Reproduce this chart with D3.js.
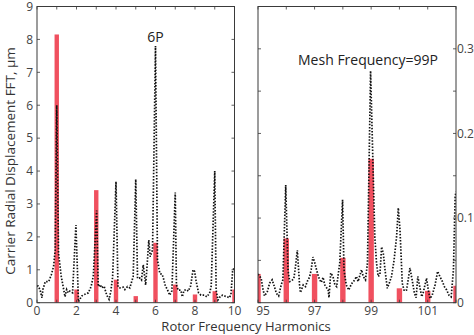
<!DOCTYPE html>
<html><head><meta charset="utf-8">
<script src="https://cdn.jsdelivr.net/npm/d3@7"></script>
<style>
html,body{margin:0;padding:0;background:#fff;}
svg{display:block;font-family:"Open Sans","Noto Sans",sans-serif;}
</style></head>
<body><svg id="c" width="474" height="335"></svg>
<script>
// ---- data ----
const leftHarmonics = [1,2,3,4,5,6,7,8,9,10];
const leftBarValues = [8.15,0.4,3.42,0.7,0.2,1.82,0.55,0.25,0.35,0.4];
const leftLineX = [0,0.05,0.15,0.25,0.3,0.42,0.59,0.72,0.84,0.92,1.0,1.09,1.23,1.34,1.42,1.5,1.58,1.66,1.8,1.97,2.1,2.26,2.4,2.6,2.74,2.85,3.02,3.1,3.2,3.27,3.4,3.53,3.65,3.74,3.83,4.0,4.1,4.2,4.37,4.45,4.58,4.7,4.87,5.0,5.09,5.2,5.29,5.38,5.45,5.5,5.56,5.66,5.73,5.85,6.0,6.1,6.22,6.34,6.42,6.5,6.6,6.72,6.83,7.0,7.06,7.15,7.28,7.36,7.44,7.56,7.66,7.78,7.9,7.98,8.06,8.18,8.3,8.48,8.6,8.74,8.82,9.0,9.07,9.16,9.29,9.4,9.52,9.63,9.74,9.82,9.91,10.0];
const leftLineY = [0.5,0.51,0.4,0.15,0.4,0.64,0.64,0.84,1.1,1.6,6.0,1.5,0.79,0.44,0.18,0.4,0.3,0.35,0.3,2.36,0.03,0.2,0.25,0.3,0.49,0.8,2.8,0.49,0.55,0.45,0.5,0.23,0.1,0.35,0.79,3.68,0.48,0.45,0.47,0.4,0.49,0.45,0.79,3.75,0.74,0.75,0.69,1.15,0.8,0.54,1.0,1.9,1.4,1.6,7.8,1.3,0.89,0.86,0.7,0.51,0.4,0.23,0.36,3.35,0.54,0.38,0.38,0.18,0.37,0.4,0.35,0.51,1.0,0.95,0.65,0.3,0.23,0.23,0.18,0.29,0.5,4.0,0.39,0.08,0.2,0.23,0.2,0.18,0.15,0.25,1.0,1.05];

const rightHarmonics = [95,96,97,98,99,100,101,102];
const rightBarValues = [0.034,0.076,0.034,0.053,0.17,0.017,0.014,0.02];
const rightLineX = [95.0,95.11,95.17,95.23,95.33,95.41,95.5,95.57,95.65,95.73,95.82,95.88,95.98,96.06,96.12,96.2,96.27,96.33,96.39,96.43,96.47,96.5,96.6,96.68,96.74,96.82,96.88,96.94,97.0,97.06,97.12,97.18,97.24,97.3,97.36,97.48,97.51,97.57,97.65,97.72,97.78,97.89,97.99,98.04,98.12,98.21,98.3,98.42,98.48,98.54,98.6,98.66,98.72,98.8,98.87,98.98,99.13,99.19,99.25,99.31,99.37,99.43,99.49,99.57,99.65,99.72,99.81,99.9,99.96,100.02,100.06,100.1,100.17,100.25,100.31,100.37,100.45,100.53,100.59,100.65,100.73,100.79,100.85,100.91,100.96,101.02,101.08,101.16,101.26,101.35,101.43,101.52,101.59,101.67,101.75,101.83,101.91,101.97,102.0];
const rightLineY = [0.034,0.029,0.017,0.008,0.013,0.023,0.027,0.02,0.011,0.008,0.021,0.027,0.139,0.039,0.025,0.026,0.029,0.044,0.062,0.042,0.021,0.012,0.021,0.019,0.025,0.03,0.039,0.054,0.048,0.04,0.033,0.027,0.024,0.03,0.021,0.015,0.006,0.035,0.031,0.021,0.019,0.047,0.1215,0.039,0.021,0.015,0.022,0.027,0.031,0.025,0.032,0.039,0.031,0.027,0.047,0.274,0.078,0.047,0.031,0.033,0.066,0.058,0.039,0.017,0.024,0.031,0.05,0.078,0.112,0.086,0.055,0.023,0.014,0.015,0.027,0.041,0.027,0.011,0.006,0.031,0.017,0.007,0.013,0.022,0.029,0.015,0.005,0.009,0.021,0.037,0.031,0.025,0.019,0.015,0.009,0.007,0.039,0.125,0.131];

const leftYTicks = [0,1,2,3,4,5,6,7,8,9];
const leftXTickLabels = [0,2,4,6,8,10];
const rightYTickLabels = [0,0.1,0.2,0.3];
const rightXTickLabels = [95,97,99,101];

const yTitle = "Carrier Radial Displacement FFT, \u03bcm";
const xTitle = "Rotor Frequency Harmonics";
const note6P = "6P";
const noteMesh = "Mesh Frequency=99P";

// ---- drawing ----
const svg = d3.select("#c");
const yTop = 6.5, yBottom = 302.7;
const barColor = "#f0505f";
const frameColor = "#3a3a3a";
const textColor = "#444";

const panels = [
  {id:"L", x: d3.scaleLinear().domain([0,10]).range([37,234.5]),
   y: d3.scaleLinear().domain([0,9]).range([yBottom,yTop]),
   bx: leftHarmonics, bv: leftBarValues, lx: leftLineX, ly: leftLineY, barW: 4.4,
   xMinor: d3.range(0,11,1), yMinor: d3.range(0,9.01,1)},
  {id:"R", x: d3.scaleLinear().domain([95,102]).range([258,456]),
   y: d3.scaleLinear().domain([0,0.35]).range([yBottom,yTop]),
   bx: rightHarmonics, bv: rightBarValues, lx: rightLineX, ly: rightLineY, barW: 5.4,
   xMinor: d3.range(95,102.01,1), yMinor: d3.range(0,0.351,0.05)}
];

panels.forEach(p => {
  const [x0,x1] = p.x.range();
  const g = svg.append("g");
  g.append("clipPath").attr("id","clip"+p.id).append("rect")
    .attr("x",x0).attr("y",yTop).attr("width",x1-x0).attr("height",yBottom-yTop);
  const inner = g.append("g").attr("clip-path","url(#clip"+p.id+")");
  inner.selectAll("rect.bar").data(p.bx).join("rect").attr("class","bar")
    .attr("x", (d)=>p.x(d)-p.barW/2).attr("width",p.barW)
    .attr("y",(d,i)=>p.y(p.bv[i])).attr("height",(d,i)=>p.y(0)-p.y(p.bv[i]))
    .attr("fill",barColor);
  const line = d3.line().x((d)=>p.x(d[0])).y((d)=>p.y(d[1]));
  inner.append("path").datum(p.lx.map((v,i)=>[v,p.ly[i]]))
    .attr("d",line).attr("fill","none").attr("stroke","#111")
    .attr("stroke-width",1.7).attr("stroke-dasharray","1.5,1.6");
  const tk = 3;
  p.xMinor.forEach(v=>{
    g.append("line").attr("x1",p.x(v)).attr("x2",p.x(v)).attr("y1",yBottom).attr("y2",yBottom-tk).attr("stroke",frameColor).attr("stroke-width",0.8);
    g.append("line").attr("x1",p.x(v)).attr("x2",p.x(v)).attr("y1",yTop).attr("y2",yTop+tk).attr("stroke",frameColor).attr("stroke-width",0.8);
  });
  p.yMinor.forEach(v=>{
    g.append("line").attr("x1",x0).attr("x2",x0+tk).attr("y1",p.y(v)).attr("y2",p.y(v)).attr("stroke",frameColor).attr("stroke-width",0.8);
    g.append("line").attr("x1",x1).attr("x2",x1-tk).attr("y1",p.y(v)).attr("y2",p.y(v)).attr("stroke",frameColor).attr("stroke-width",0.8);
  });
  g.append("rect").attr("x",x0).attr("y",yTop).attr("width",x1-x0).attr("height",yBottom-yTop)
    .attr("fill","none").attr("stroke",frameColor).attr("stroke-width",1);
});

const L = panels[0], R = panels[1];
const lbl = svg.append("g").attr("fill",textColor).attr("font-size",12);
lbl.selectAll("text.lx").data(leftXTickLabels).join("text").attr("class","lx")
  .attr("x",d=>L.x(d)).attr("y",314.5).attr("text-anchor","middle").text(d=>d);
lbl.selectAll("text.ly").data(leftYTicks).join("text").attr("class","ly")
  .attr("x",33).attr("y",d=>L.y(d)+4.3).attr("text-anchor","end").text(d=>d);
lbl.selectAll("text.rx").data(rightXTickLabels).join("text").attr("class","rx")
  .attr("x",d=>R.x(d)+(d===95?5:0)).attr("y",314.5).attr("text-anchor","middle").text(d=>d);
lbl.selectAll("text.ry").data(rightYTickLabels).join("text").attr("class","ry")
  .attr("x",457).attr("y",d=>R.y(d)+4.3).attr("text-anchor","start").text(d=>d);

svg.append("text").attr("x",246).attr("y",331).attr("text-anchor","middle")
  .attr("font-size",13).attr("fill","#333").text(xTitle);
svg.append("text").attr("transform","translate(15,161) rotate(-90)").attr("text-anchor","middle")
  .attr("font-size",13.5).attr("fill","#333").text(yTitle);
svg.append("text").attr("x",L.x(6)).attr("y",41.5).attr("text-anchor","middle")
  .attr("font-size",14).attr("fill","#222").text(note6P);
svg.append("text").attr("x",368).attr("y",65).attr("text-anchor","middle")
  .attr("font-size",14).attr("fill","#222").text(noteMesh);
</script></body></html>
